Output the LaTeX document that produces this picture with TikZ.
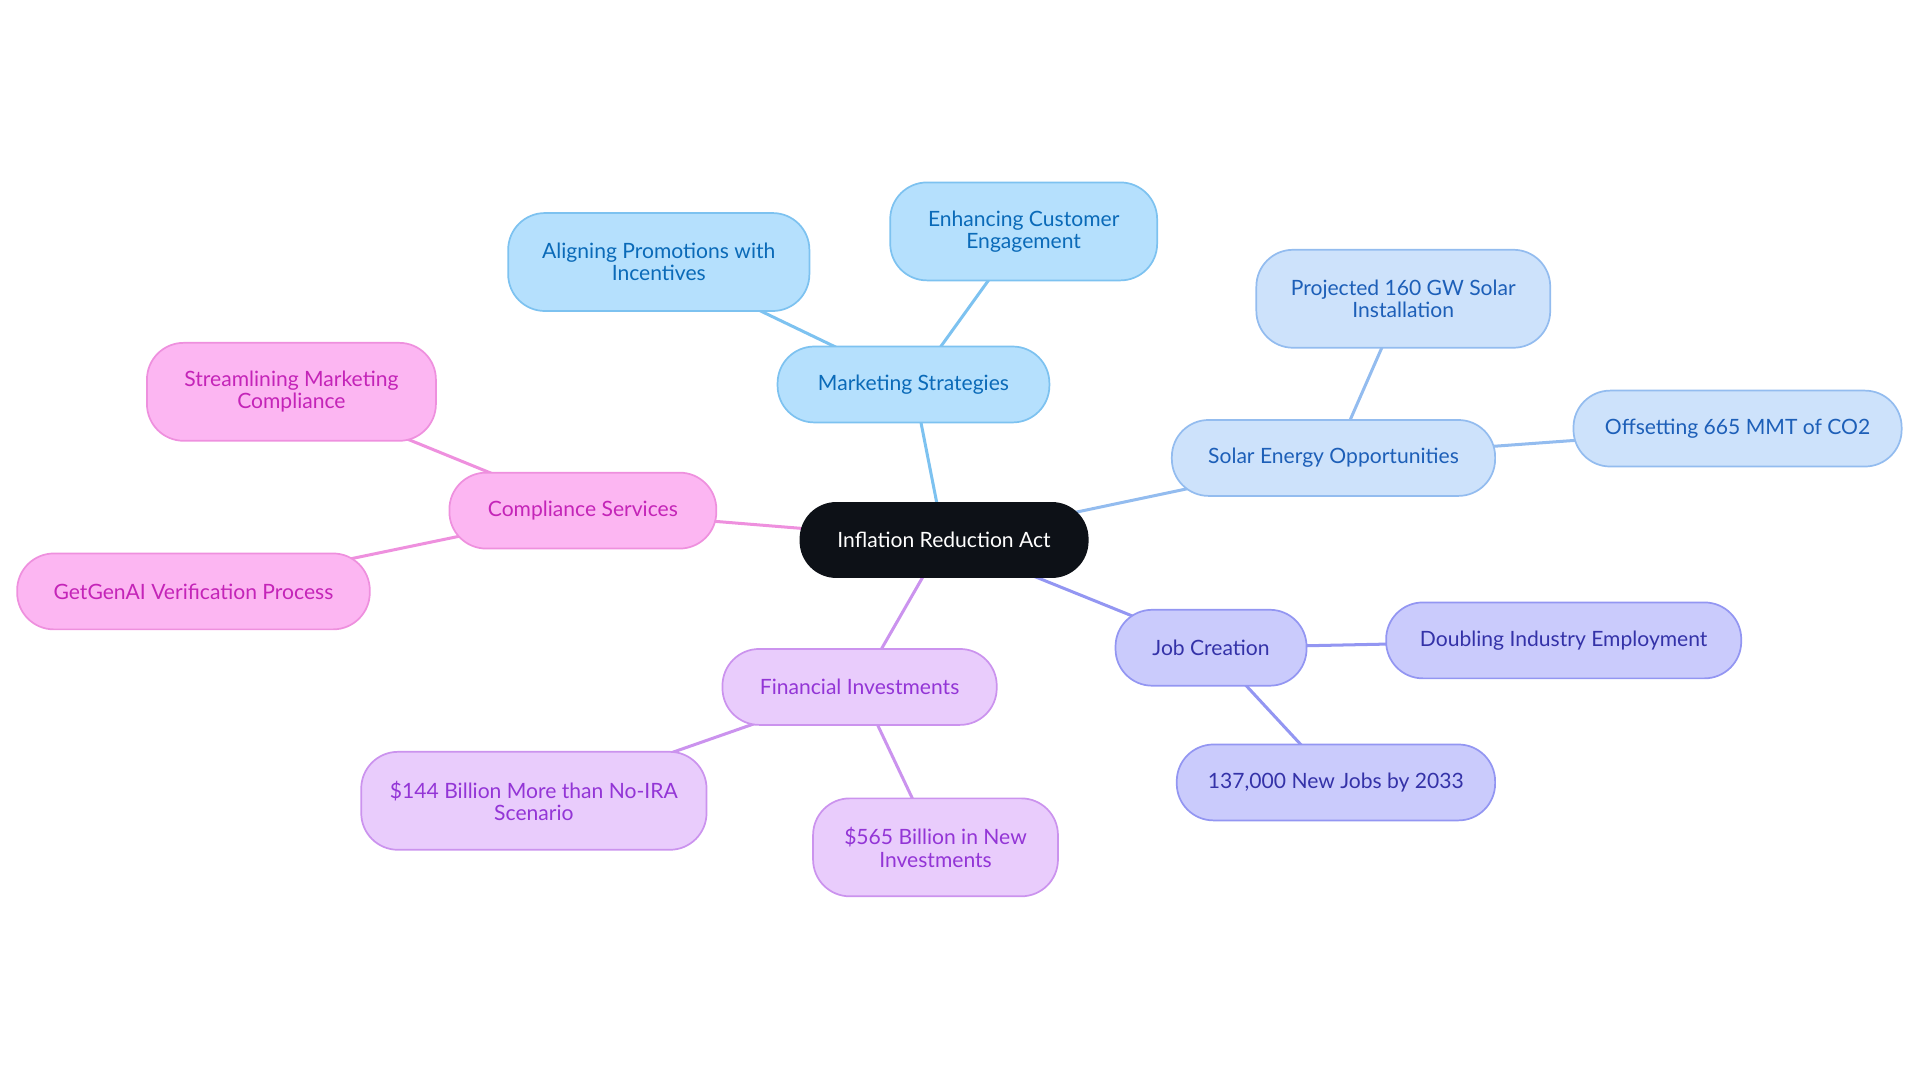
\documentclass[tikz,border=0pt]{standalone}
\usepackage{fontspec}
\setmainfont{Lato}
\usetikzlibrary{positioning,backgrounds}
\definecolor{rootfill}{HTML}{0D1117}
\definecolor{mkfill}{HTML}{B5E0FD}\definecolor{mkline}{HTML}{7DC2F0}\definecolor{mktext}{HTML}{0A6AB8}
\definecolor{sofill}{HTML}{CDE2FB}\definecolor{soline}{HTML}{93BCEF}\definecolor{sotext}{HTML}{1D5FB8}
\definecolor{jbfill}{HTML}{CACBFC}\definecolor{jbline}{HTML}{9396F2}\definecolor{jbtext}{HTML}{3432A8}
\definecolor{fifill}{HTML}{E9CCFC}\definecolor{filine}{HTML}{CB93EE}\definecolor{fitext}{HTML}{9335D6}
\definecolor{cofill}{HTML}{FCB6F2}\definecolor{coline}{HTML}{EE90DE}\definecolor{cotext}{HTML}{C424B8}
\tikzset{
  box/.style={rounded corners=0.3cm, align=center, inner sep=0pt, font=\fontsize{4.9}{5.2}\selectfont, minimum height=0.62cm},
  tall/.style={minimum height=0.8cm},
  mk/.style={box, fill=mkfill, draw=mkline, text=mktext},
  so/.style={box, fill=sofill, draw=soline, text=sotext},
  jb/.style={box, fill=jbfill, draw=jbline, text=jbtext},
  fi/.style={box, fill=fifill, draw=filine, text=fitext},
  co/.style={box, fill=cofill, draw=coline, text=cotext},
}
\begin{document}
\begin{tikzpicture}
    \useasboundingbox (0,0) rectangle (15.68,-8.845);

    \node[box, fill=rootfill, text=white, minimum width=2.36cm] (root) at (7.71,-4.41) {Inflation Reduction Act};

    \node[mk, minimum width=2.22cm] (mark) at (7.46,-3.14) {Marketing Strategies};
    \node[mk, tall, minimum width=2.46cm] (align) at (5.38,-2.14) {Aligning Promotions with\\Incentives};
    \node[mk, tall, minimum width=2.18cm] (engage) at (8.36,-1.89) {Enhancing Customer\\Engagement};

    \node[so, minimum width=2.64cm] (solar) at (10.89,-3.74) {Solar Energy Opportunities};
    \node[so, tall, minimum width=2.40cm] (gw) at (11.46,-2.44) {Projected 160 GW Solar\\Installation};
    \node[so, minimum width=2.68cm] (mmt) at (14.19,-3.50) {Offsetting 665 MMT of CO2};

    \node[jb, minimum width=1.56cm] (jobs) at (9.89,-5.29) {Job Creation};
    \node[jb, minimum width=2.90cm] (double) at (12.77,-5.23) {Doubling Industry Employment};
    \node[jb, minimum width=2.60cm] (newjobs) at (10.91,-6.39) {137,000 New Jobs by 2033};

    \node[fi, minimum width=2.24cm] (fin) at (7.02,-5.61) {Financial Investments};
    \node[fi, tall, minimum width=2.82cm] (more) at (4.36,-6.54) {\$144 Billion More than No-IRA\\Scenario};
    \node[fi, tall, minimum width=2.00cm] (new) at (7.64,-6.92) {\$565 Billion in New\\Investments};

    \node[co, minimum width=2.18cm] (comp) at (4.76,-4.17) {Compliance Services};
    \node[co, tall, minimum width=2.36cm] (stream) at (2.38,-3.20) {Streamlining Marketing\\Compliance};
    \node[co, minimum width=2.88cm] (verify) at (1.58,-4.83) {GetGenAI Verification Process};

    % connectors behind the boxes
    \begin{pgfonlayer}{background}
        \draw[mkline, line width=0.7pt] (root.center) -- (mark.center) (mark.center) -- (align.center) (mark.center) -- (engage.center);
        \draw[soline, line width=0.7pt] (root.center) -- (solar.center) (solar.center) -- (gw.center) (solar.center) -- (mmt.center);
        \draw[jbline, line width=0.7pt] (root.center) -- (jobs.center) (jobs.center) -- (double.center) (jobs.center) -- (newjobs.center);
        \draw[filine, line width=0.7pt] (root.center) -- (fin.center) (fin.center) -- (more.center) (fin.center) -- (new.center);
        \draw[coline, line width=0.7pt] (root.center) -- (comp.center) (comp.center) -- (stream.center) (comp.center) -- (verify.center);
    \end{pgfonlayer}
\end{tikzpicture}
\end{document}
